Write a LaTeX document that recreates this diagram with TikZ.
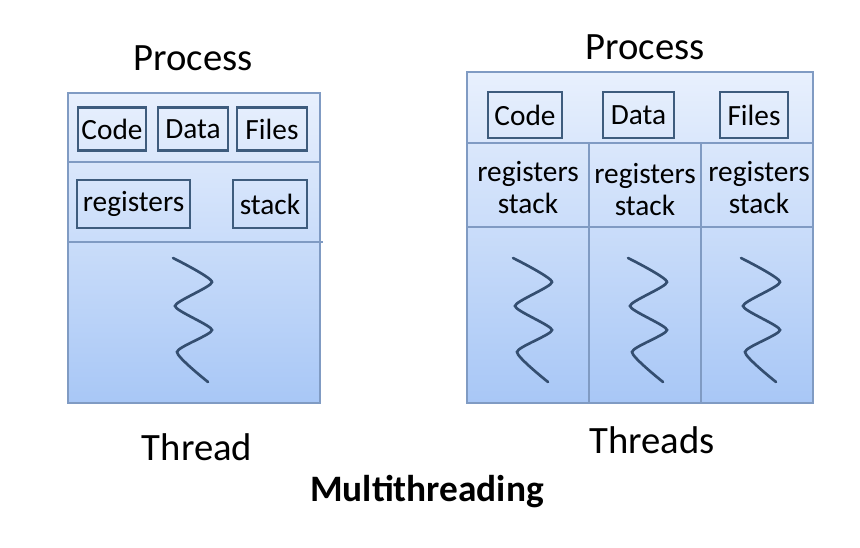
\documentclass[tikz,border=0pt]{standalone}
\usepackage{fontspec}
\setmainfont{Carlito}
\usetikzlibrary{positioning}
\definecolor{procline}{RGB}{128,155,195}
\definecolor{boxline}{RGB}{62,92,125}
\definecolor{shadetop}{RGB}{232,240,253}
\definecolor{shadebot}{RGB}{168,199,246}
\definecolor{wave}{RGB}{52,78,112}
\tikzset{
  proc/.style={draw=procline, line width=1pt, top color=shadetop, bottom color=shadebot, inner sep=0pt},
  part/.style={draw=boxline, line width=2pt, inner sep=0pt, font=\fontsize{22}{22}\selectfont},
  lbl/.style={font=\fontsize{29}{29}\selectfont},
  txt/.style={font=\fontsize{22}{24}\selectfont, align=center},
  sep/.style={draw=procline, line width=0.8pt},
  zig/.style={draw=wave, line width=2pt, line cap=round}
}
\newcommand{\zigzag}[2]{%
  \draw[zig] plot[smooth, tension=0.35] coordinates {(#1-27,#2-64) (#1+12,#2-40) (#1-25,#2-16) (#1+12,#2+8) (#1-23,#2+30) (#1+8,#2+60)};}
\begin{document}
\begin{tikzpicture}[x=0.75pt,y=0.75pt,yscale=-1,xscale=1]
  \useasboundingbox (0,0) rectangle (860,548);

  % left process
  \node[proc, minimum width=252*0.75pt, minimum height=310*0.75pt] (proc1) at (194,248) {};
  \draw[sep] (68,162) -- (320,162);
  \draw[sep] (68,242) -- (323,242);
  \node[part, minimum width=68*0.75pt, minimum height=43*0.75pt] (code1) at (112,129) {Code};
  \node[part, minimum width=70*0.75pt, minimum height=43*0.75pt] (data1) at (193,129) {Data};
  \node[part, minimum width=70*0.75pt, minimum height=43*0.75pt] (files1) at (272,129) {Files};
  \node[part, minimum width=113*0.75pt, minimum height=48*0.75pt] (regs1) at (133.5,204) {registers};
  \node[part, minimum width=74*0.75pt, minimum height=48*0.75pt] (stack1) at (270,204) {stack};
  \zigzag{200}{322}
  \node[lbl] (ptitle1) at (193,58) {Process};
  \node[lbl] (thread1) at (197,447) {Thread};

  % right process
  \node[proc, minimum width=346*0.75pt, minimum height=331*0.75pt] (proc2) at (640,237.5) {};
  \draw[sep] (467,143) -- (813,143);
  \draw[sep] (467,227) -- (813,227);
  \draw[sep] (589,143) -- (589,403);
  \draw[sep] (701,143) -- (701,403);
  \node[part, minimum width=74*0.75pt, minimum height=46*0.75pt] (code2) at (525,115) {Code};
  \node[part, minimum width=71*0.75pt, minimum height=46*0.75pt] (data2) at (638.5,115) {Data};
  \node[part, minimum width=68*0.75pt, minimum height=46*0.75pt] (files2) at (754,115) {Files};
  \node[txt] (rs1) at (528,188) {registers\\stack};
  \node[txt] (rs2) at (645,190) {registers\\stack};
  \node[txt] (rs3) at (759,188) {registers\\stack};
  \zigzag{540}{322}
  \zigzag{655}{322}
  \zigzag{768}{322}
  \node[lbl] (ptitle2) at (645,47) {Process};
  \node[lbl] (thread2) at (652,440) {Threads};

  \node[font=\fontsize{28}{28}\selectfont\bfseries] (caption) at (427,492) {Multithreading};
\end{tikzpicture}
\end{document}
